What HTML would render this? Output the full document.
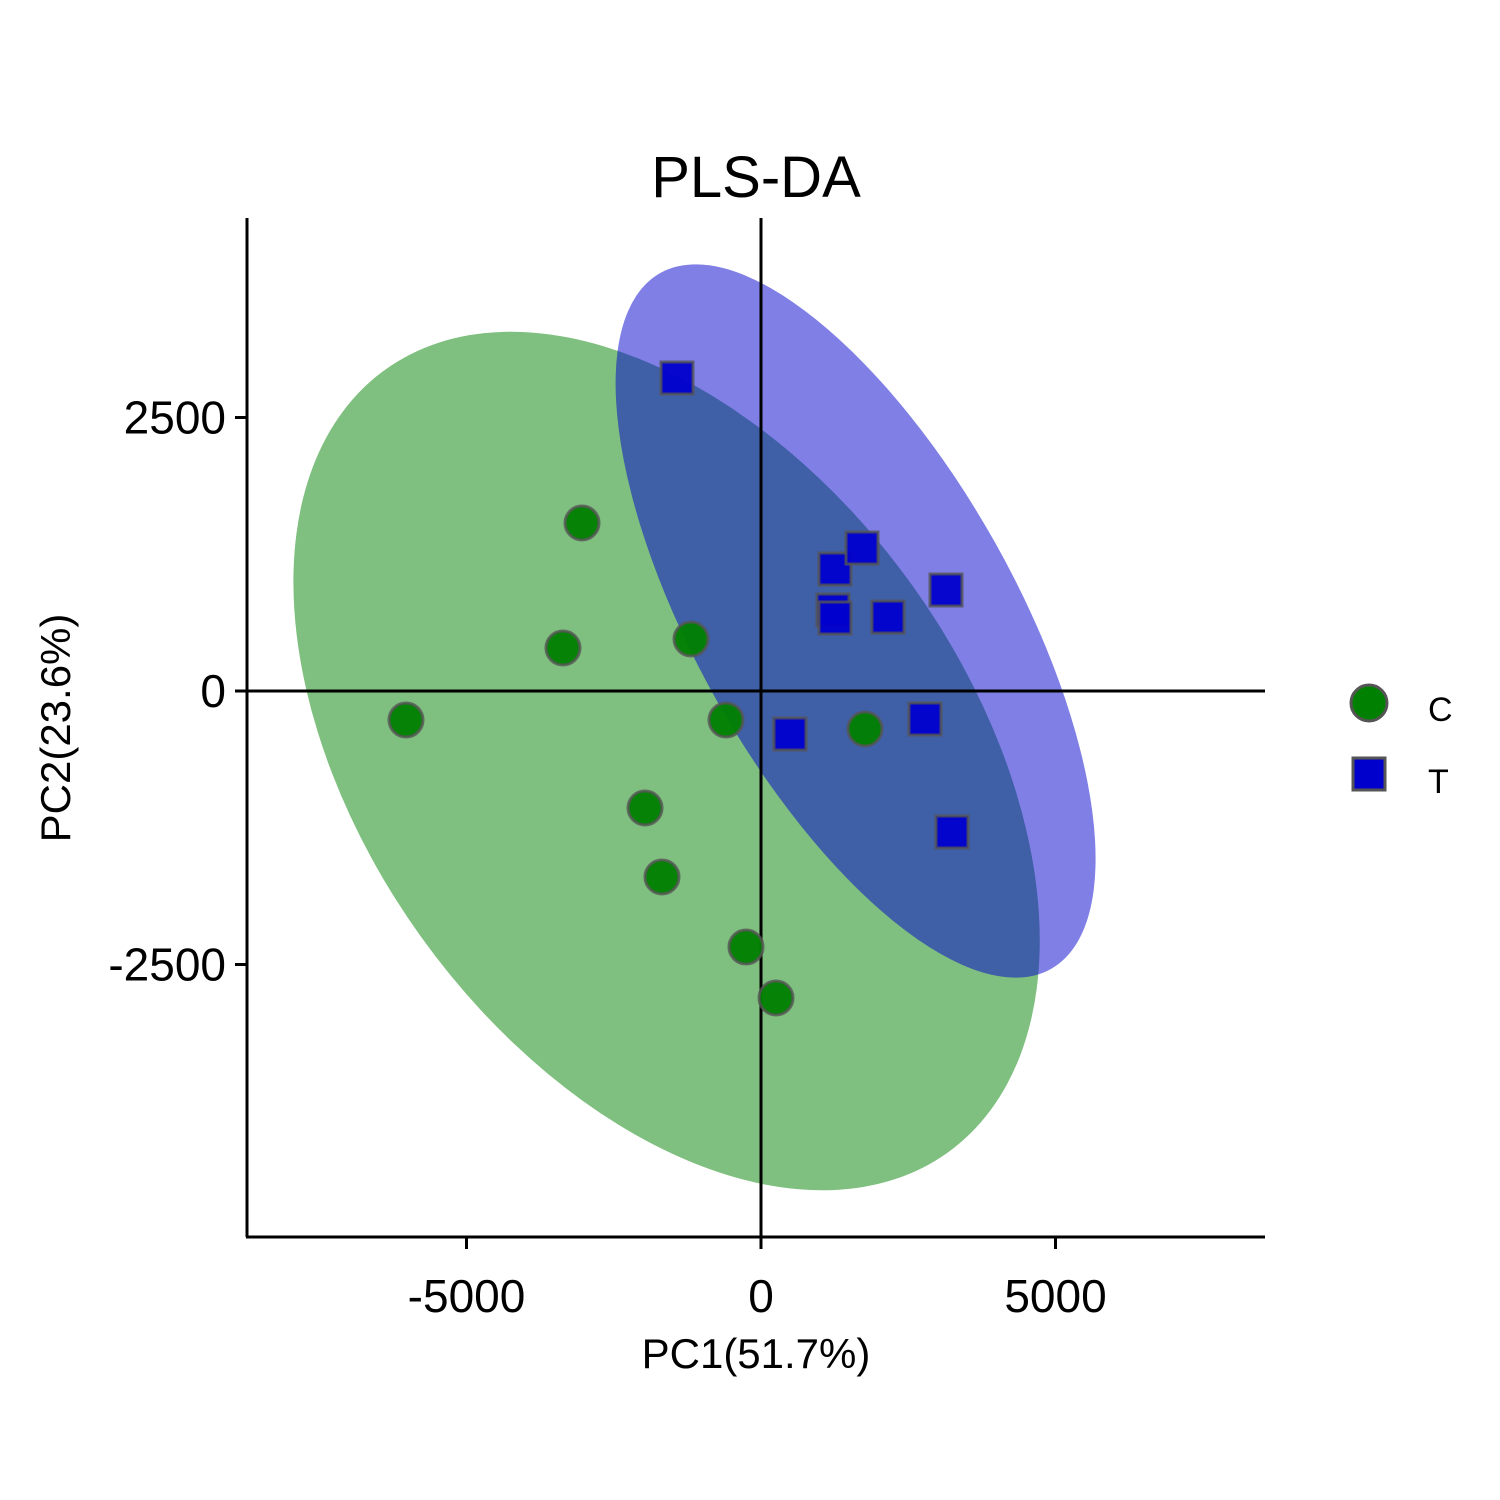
<!DOCTYPE html>
<html><head><meta charset="utf-8"><style>
html,body{margin:0;padding:0;background:#fff;}
svg{display:block;font-family:"Liberation Sans","DejaVu Sans",sans-serif;}
</style></head><body>
<svg id="chart" width="1500" height="1500" viewBox="0 0 1500 1500">
<rect width="1500" height="1500" fill="#fff"/>
<text x="756" y="197" font-size="58" text-anchor="middle">PLS-DA</text>
<g id="ellipses"></g>
<g id="axes"></g>
<g id="points"></g>
<text x="756" y="1368" font-size="42" text-anchor="middle">PC1(51.7%)</text>
<text transform="translate(70,728) rotate(-90)" font-size="42" text-anchor="middle">PC2(23.6%)</text>
<g>
<g><circle cx="1369" cy="703" r="18" fill="#008000" stroke="#555" stroke-width="3"/><text x="1428" y="721" font-size="34">C</text></g>
<g><rect x="1353" y="758" width="32" height="32" fill="#0000cd" stroke="#555" stroke-width="3"/><text x="1428" y="793" font-size="34">T</text></g>
</g>
</svg>
<script>
const cX = [-3039,-3362,-6027,-1188,-594,-1969,-1681,-255,255,1766];
const cY = [1536,393,-265,475,-265,-1069,-1700,-2340,-2806,-347];
const tX = [-1426,1256,1715,3141,1222,1256,2156,492,2784,3243];
const tY = [2861,1115,1307,923,740,667,676,-393,-256,-1289];
const xTicks = [-5000,0,5000];
const yTicks = [2500,0,-2500];
const xTickLabels = ["-5000","0","5000"];
const yTickLabels = ["2500","0","-2500"];
const ellipseCenterX = [-1603,1606];
const ellipseCenterY = [-640,640];

const NS="http://www.w3.org/2000/svg";
function sx(v){return 761+v*(294.5/5000);}
function sy(v){return 691-v*(273.5/2500);}
function mk(tag,attrs,parent){const e=document.createElementNS(NS,tag);for(const k in attrs)e.setAttribute(k,attrs[k]);parent.appendChild(e);return e;}

const eg=document.getElementById('ellipses');
const eCol=['#008000','#0000cd'];
const eRx=[482,399], eRy=[302,160], eRot=[54.3,60.7];
for(let i=0;i<2;i++){
  const cx=sx(ellipseCenterX[i]), cy=sy(ellipseCenterY[i]);
  const el=mk('ellipse',{cx:cx,cy:cy,rx:eRx[i],ry:eRy[i],fill:eCol[i],'fill-opacity':0.5,transform:`rotate(${eRot[i]} ${cx} ${cy})`},eg);
  
  
}

const ag=document.getElementById('axes');
const l1=mk('line',{x1:247,y1:218,x2:247,y2:1237,stroke:'#000','stroke-width':3},ag);


const l2=mk('line',{x1:246,y1:1237,x2:1265,y2:1237,stroke:'#000','stroke-width':3},ag);


const l3=mk('line',{x1:sx(0),y1:218,x2:sx(0),y2:1237,stroke:'#000','stroke-width':3},ag);


const l4=mk('line',{x1:247,y1:sy(0),x2:1265,y2:sy(0),stroke:'#000','stroke-width':3},ag);


xTicks.forEach((v,i)=>{
  const t=mk('line',{x1:sx(v),y1:1237,x2:sx(v),y2:1249,stroke:'#000','stroke-width':3},ag);
  
  
  const tx=mk('text',{x:sx(v),y:1312,'font-size':46,'text-anchor':'middle'},ag);
  tx.textContent=xTickLabels[i];
  
  
});
yTicks.forEach((v,i)=>{
  const t=mk('line',{x1:235,y1:sy(v),x2:247,y2:sy(v),stroke:'#000','stroke-width':3},ag);
  
  
  const tx=mk('text',{x:226,y:sy(v)+16,'font-size':46,'text-anchor':'end'},ag);
  tx.textContent=yTickLabels[i];
  
  
});

const pg=document.getElementById('points');
cX.forEach((v,i)=>{
  const c=mk('circle',{cx:sx(v),cy:sy(cY[i]),r:17,fill:'#008000','fill-opacity':0.95,stroke:'#555','stroke-width':3,'stroke-opacity':0.8},pg);
  
  
});
tX.forEach((v,i)=>{
  const r=mk('rect',{x:sx(v)-16,y:sy(tY[i])-16,width:32,height:32,fill:'#0000cd','fill-opacity':0.95,stroke:'#555','stroke-width':3,'stroke-opacity':0.8},pg);
  
  
});
</script>
</body></html>
